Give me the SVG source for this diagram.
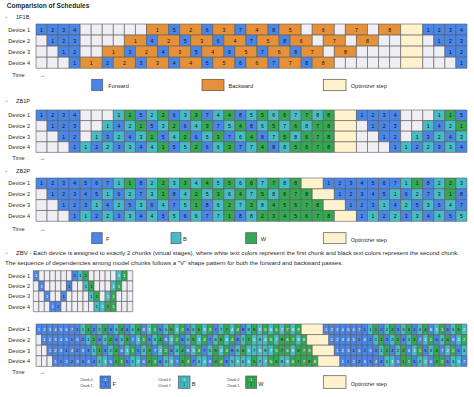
<svg xmlns="http://www.w3.org/2000/svg" width="474" height="397" viewBox="0 0 474 397">
<style>
.t{font-family:"Liberation Sans",Arial,sans-serif;fill:#2a2a2a;font-size:5.6px}
.hd{font-family:"Liberation Sans",Arial,sans-serif;fill:#2a2a2a;font-size:7.6px;font-weight:bold}
.bu{fill:#999;font-size:5px;font-family:"Liberation Sans",Arial,sans-serif}
.g rect{stroke:#5a5a5a;stroke-width:0.6;vector-effect:non-scaling-stroke;width:1px;height:1px}
.g rect.d{width:2px}
.g rect.q{width:4px}
.E{fill:#eeeef4}.F{fill:#4a86e8}.B{fill:#e69138}.T{fill:#46bdc6}.W{fill:#34a853}.O{fill:#fff2cc}
.n text{font-family:"Liberation Sans",Arial,sans-serif;font-size:5.2px;text-anchor:middle;dominant-baseline:central;fill:#111}
.s text{font-size:4.2px}
.n text.w{fill:#fff}
.lg rect{stroke:#555;stroke-width:0.7}
.ck{font-family:"Liberation Sans",Arial,sans-serif;font-size:3.4px;fill:#333}
</style>

<text class="hd" x="6.7" y="7.8" textLength="82.6" lengthAdjust="spacingAndGlyphs">Comparision of Schedules</text>

<!-- ===== 1F1B ===== -->
<g id="sec-1f1b">
<text class="bu" x="5.5" y="19">•</text>
<text class="t" x="16" y="19.2">1F1B</text>
<text class="t" x="8.3" y="31.5">Device 1</text>
<text class="t" x="8.3" y="42.6">Device 2</text>
<text class="t" x="8.3" y="53.6">Device 3</text>
<text class="t" x="8.3" y="64.7">Device 4</text>
<text class="t" x="12.3" y="77">Time</text>
<text class="t" x="39.5" y="77">→</text>
<g class="g" transform="translate(36,24) scale(11.05,11.07)">
<g><rect class="F" x="0"/><rect class="F" x="1"/><rect class="F" x="2"/><rect class="F" x="3"/><rect class="E" x="4"/><rect class="E" x="5"/><rect class="E" x="6"/><rect class="E" x="7"/><rect class="E" x="8"/><rect class="E" x="9"/><rect class="B d" x="10"/><rect class="F" x="12"/><rect class="B d" x="13"/><rect class="F" x="15"/><rect class="B d" x="16"/><rect class="F" x="18"/><rect class="B d" x="19"/><rect class="F" x="21"/><rect class="B d" x="22"/><rect class="E" x="24"/><rect class="B d" x="25"/><rect class="E" x="27"/><rect class="B d" x="28"/><rect class="E" x="30"/><rect class="B d" x="31"/><rect class="O d" x="33"/><rect class="F" x="35"/><rect class="F" x="36"/><rect class="F" x="37"/><rect class="F" x="38"/></g>
<g transform="translate(0,1)"><rect class="E" x="0"/><rect class="F" x="1"/><rect class="F" x="2"/><rect class="F" x="3"/><rect class="E" x="4"/><rect class="E" x="5"/><rect class="E" x="6"/><rect class="E" x="7"/><rect class="B d" x="8"/><rect class="F" x="10"/><rect class="B d" x="11"/><rect class="F" x="13"/><rect class="B d" x="14"/><rect class="F" x="16"/><rect class="B d" x="17"/><rect class="F" x="19"/><rect class="B d" x="20"/><rect class="F" x="22"/><rect class="B d" x="23"/><rect class="E" x="25"/><rect class="B d" x="26"/><rect class="E" x="28"/><rect class="B d" x="29"/><rect class="E" x="31"/><rect class="E" x="32"/><rect class="O d" x="33"/><rect class="E" x="35"/><rect class="F" x="36"/><rect class="F" x="37"/><rect class="F" x="38"/></g>
<g transform="translate(0,2)"><rect class="E" x="0"/><rect class="E" x="1"/><rect class="F" x="2"/><rect class="F" x="3"/><rect class="E" x="4"/><rect class="E" x="5"/><rect class="B d" x="6"/><rect class="F" x="8"/><rect class="B d" x="9"/><rect class="F" x="11"/><rect class="B d" x="12"/><rect class="F" x="14"/><rect class="B d" x="15"/><rect class="F" x="17"/><rect class="B d" x="18"/><rect class="F" x="20"/><rect class="B d" x="21"/><rect class="F" x="23"/><rect class="B d" x="24"/><rect class="E" x="26"/><rect class="B d" x="27"/><rect class="E" x="29"/><rect class="E" x="30"/><rect class="E" x="31"/><rect class="E" x="32"/><rect class="O d" x="33"/><rect class="E" x="35"/><rect class="E" x="36"/><rect class="F" x="37"/><rect class="F" x="38"/></g>
<g transform="translate(0,3)"><rect class="E" x="0"/><rect class="E" x="1"/><rect class="E" x="2"/><rect class="F" x="3"/><rect class="B d" x="4"/><rect class="F" x="6"/><rect class="B d" x="7"/><rect class="F" x="9"/><rect class="B d" x="10"/><rect class="F" x="12"/><rect class="B d" x="13"/><rect class="F" x="15"/><rect class="B d" x="16"/><rect class="F" x="18"/><rect class="B d" x="19"/><rect class="F" x="21"/><rect class="B d" x="22"/><rect class="F" x="24"/><rect class="B d" x="25"/><rect class="E" x="27"/><rect class="E" x="28"/><rect class="E" x="29"/><rect class="E" x="30"/><rect class="E" x="31"/><rect class="E" x="32"/><rect class="O d" x="33"/><rect class="E" x="35"/><rect class="E" x="36"/><rect class="E" x="37"/><rect class="F" x="38"/></g>
</g>
<g class="n" transform="translate(36,29.5)"><text x="5.5">1</text><text x="16.6">2</text><text x="27.6">3</text><text x="38.7">4</text><text x="121.55">1</text><text x="138.1">5</text><text x="154.7">2</text><text x="171.3">6</text><text x="187.85">3</text><text x="204.4">7</text><text x="221">4</text><text x="237.6">8</text><text x="254.15">5</text><text x="287.3">6</text><text x="320.45">7</text><text x="353.6">8</text><text x="392.3">1</text><text x="403.3">2</text><text x="414.4">3</text><text x="425.4">4</text></g>
<g class="n" transform="translate(36,40.6)"><text x="16.6">1</text><text x="27.6">2</text><text x="38.7">3</text><text x="99.45">1</text><text x="116">4</text><text x="132.6">2</text><text x="149.2">5</text><text x="165.75">3</text><text x="182.3">6</text><text x="198.9">4</text><text x="215.5">7</text><text x="232.05">5</text><text x="248.6">8</text><text x="265.2">6</text><text x="298.35">7</text><text x="331.5">8</text><text x="403.3">1</text><text x="414.4">2</text><text x="425.4">3</text></g>
<g class="n" transform="translate(36,51.6)"><text x="27.6">1</text><text x="38.7">2</text><text x="77.35">1</text><text x="93.9">3</text><text x="110.5">2</text><text x="127.1">4</text><text x="143.65">3</text><text x="160.2">5</text><text x="176.8">4</text><text x="193.4">6</text><text x="209.95">5</text><text x="226.5">7</text><text x="243.1">6</text><text x="259.7">8</text><text x="276.25">7</text><text x="309.4">8</text><text x="414.4">1</text><text x="425.4">2</text></g>
<g class="n" transform="translate(36,62.7)"><text x="38.7">1</text><text x="55.25">1</text><text x="71.8">2</text><text x="88.4">2</text><text x="105">3</text><text x="121.55">3</text><text x="138.1">4</text><text x="154.7">4</text><text x="171.3">5</text><text x="187.85">5</text><text x="204.4">6</text><text x="221">6</text><text x="237.6">7</text><text x="254.15">7</text><text x="270.7">8</text><text x="287.3">8</text><text x="425.4">1</text></g>
<g class="lg">
<rect class="F" x="91.7" y="79.3" width="11" height="11.4"/>
<rect class="B" x="202" y="79.3" width="22" height="11.4"/>
<rect class="O" x="323.3" y="79.3" width="22.7" height="11.4"/>
</g>
<text class="t" x="108.3" y="88">Forward</text>
<text class="t" x="228.5" y="88">Backward</text>
<text class="t" x="350.7" y="88">Optimizer step</text>
</g>

<!-- ===== ZB1P ===== -->
<g id="sec-zb1p">
<text class="bu" x="5.5" y="102.6">•</text>
<text class="t" x="16" y="102.8">ZB1P</text>
<text class="t" x="8.3" y="117.3">Device 1</text>
<text class="t" x="8.3" y="127.9">Device 2</text>
<text class="t" x="8.3" y="138.5">Device 3</text>
<text class="t" x="8.3" y="149.1">Device 4</text>
<text class="t" x="12.3" y="160.3">Time</text>
<text class="t" x="39.5" y="160.3">→</text>
<g class="g" transform="translate(36,110) scale(11.05,10.6)">
<g><rect class="F" x="0"/><rect class="F" x="1"/><rect class="F" x="2"/><rect class="F" x="3"/><rect class="E" x="4"/><rect class="E" x="5"/><rect class="E" x="6"/><rect class="T" x="7"/><rect class="W" x="8"/><rect class="F" x="9"/><rect class="T" x="10"/><rect class="W" x="11"/><rect class="F" x="12"/><rect class="T" x="13"/><rect class="W" x="14"/><rect class="F" x="15"/><rect class="T" x="16"/><rect class="W" x="17"/><rect class="F" x="18"/><rect class="T" x="19"/><rect class="W" x="20"/><rect class="T" x="21"/><rect class="W" x="22"/><rect class="T" x="23"/><rect class="W" x="24"/><rect class="T" x="25"/><rect class="W" x="26"/><rect class="O d" x="27"/><rect class="F" x="29"/><rect class="F" x="30"/><rect class="F" x="31"/><rect class="F" x="32"/><rect class="E" x="33"/><rect class="E" x="34"/><rect class="E" x="35"/><rect class="T" x="36"/><rect class="W" x="37"/><rect class="F" x="38"/></g>
<g transform="translate(0,1)"><rect class="E" x="0"/><rect class="F" x="1"/><rect class="F" x="2"/><rect class="F" x="3"/><rect class="E" x="4"/><rect class="E" x="5"/><rect class="T" x="6"/><rect class="F" x="7"/><rect class="T" x="8"/><rect class="W" x="9"/><rect class="F" x="10"/><rect class="T" x="11"/><rect class="W" x="12"/><rect class="F" x="13"/><rect class="T" x="14"/><rect class="W" x="15"/><rect class="F" x="16"/><rect class="T" x="17"/><rect class="W" x="18"/><rect class="F" x="19"/><rect class="T" x="20"/><rect class="W" x="21"/><rect class="T" x="22"/><rect class="W" x="23"/><rect class="T" x="24"/><rect class="W" x="25"/><rect class="W" x="26"/><rect class="O d" x="27"/><rect class="E" x="29"/><rect class="F" x="30"/><rect class="F" x="31"/><rect class="F" x="32"/><rect class="E" x="33"/><rect class="E" x="34"/><rect class="T" x="35"/><rect class="F" x="36"/><rect class="T" x="37"/><rect class="W" x="38"/></g>
<g transform="translate(0,2)"><rect class="E" x="0"/><rect class="E" x="1"/><rect class="F" x="2"/><rect class="F" x="3"/><rect class="E" x="4"/><rect class="T" x="5"/><rect class="F" x="6"/><rect class="T" x="7"/><rect class="F" x="8"/><rect class="T" x="9"/><rect class="W" x="10"/><rect class="F" x="11"/><rect class="T" x="12"/><rect class="W" x="13"/><rect class="F" x="14"/><rect class="T" x="15"/><rect class="W" x="16"/><rect class="F" x="17"/><rect class="T" x="18"/><rect class="W" x="19"/><rect class="F" x="20"/><rect class="T" x="21"/><rect class="W" x="22"/><rect class="T" x="23"/><rect class="W" x="24"/><rect class="W" x="25"/><rect class="W" x="26"/><rect class="O d" x="27"/><rect class="E" x="29"/><rect class="E" x="30"/><rect class="F" x="31"/><rect class="F" x="32"/><rect class="E" x="33"/><rect class="T" x="34"/><rect class="F" x="35"/><rect class="T" x="36"/><rect class="F" x="37"/><rect class="T" x="38"/></g>
<g transform="translate(0,3)"><rect class="E" x="0"/><rect class="E" x="1"/><rect class="E" x="2"/><rect class="F" x="3"/><rect class="T" x="4"/><rect class="F" x="5"/><rect class="T" x="6"/><rect class="F" x="7"/><rect class="T" x="8"/><rect class="F" x="9"/><rect class="T" x="10"/><rect class="W" x="11"/><rect class="F" x="12"/><rect class="T" x="13"/><rect class="W" x="14"/><rect class="F" x="15"/><rect class="T" x="16"/><rect class="W" x="17"/><rect class="F" x="18"/><rect class="T" x="19"/><rect class="W" x="20"/><rect class="F" x="21"/><rect class="T" x="22"/><rect class="W" x="23"/><rect class="W" x="24"/><rect class="W" x="25"/><rect class="W" x="26"/><rect class="O d" x="27"/><rect class="E" x="29"/><rect class="E" x="30"/><rect class="E" x="31"/><rect class="F" x="32"/><rect class="T" x="33"/><rect class="F" x="34"/><rect class="T" x="35"/><rect class="F" x="36"/><rect class="T" x="37"/><rect class="F" x="38"/></g>
</g>
<g class="n" transform="translate(36,115.3)"><text x="5.5">1</text><text x="16.6">2</text><text x="27.6">3</text><text x="38.7">4</text><text x="82.9">1</text><text x="93.9">1</text><text x="105">5</text><text x="116">2</text><text x="127.1">2</text><text x="138.1">6</text><text x="149.2">3</text><text x="160.2">3</text><text x="171.3">7</text><text x="182.3">4</text><text x="193.4">4</text><text x="204.4">8</text><text x="215.5">5</text><text x="226.5">5</text><text x="237.6">6</text><text x="248.6">6</text><text x="259.7">7</text><text x="270.7">7</text><text x="281.8">8</text><text x="292.8">8</text><text x="326">1</text><text x="337">2</text><text x="348.1">3</text><text x="359.1">4</text><text x="403.3">1</text><text x="414.4">1</text><text x="425.4">5</text></g>
<g class="n" transform="translate(36,125.9)"><text x="16.6">1</text><text x="27.6">2</text><text x="38.7">3</text><text x="71.8">1</text><text x="82.9">4</text><text x="93.9">2</text><text x="105">1</text><text x="116">5</text><text x="127.1">3</text><text x="138.1">2</text><text x="149.2">6</text><text x="160.2">4</text><text x="171.3">3</text><text x="182.3">7</text><text x="193.4">5</text><text x="204.4">4</text><text x="215.5">8</text><text x="226.5">6</text><text x="237.6">5</text><text x="248.6">7</text><text x="259.7">6</text><text x="270.7">8</text><text x="281.8">7</text><text x="292.8">8</text><text x="337">1</text><text x="348.1">2</text><text x="359.1">3</text><text x="392.3">1</text><text x="403.3">4</text><text x="414.4">2</text><text x="425.4">1</text></g>
<g class="n" transform="translate(36,136.5)"><text x="27.6">1</text><text x="38.7">2</text><text x="60.8">1</text><text x="71.8">3</text><text x="82.9">2</text><text x="93.9">4</text><text x="105">3</text><text x="116">1</text><text x="127.1">5</text><text x="138.1">4</text><text x="149.2">2</text><text x="160.2">6</text><text x="171.3">5</text><text x="182.3">3</text><text x="193.4">7</text><text x="204.4">6</text><text x="215.5">4</text><text x="226.5">8</text><text x="237.6">7</text><text x="248.6">5</text><text x="259.7">8</text><text x="270.7">6</text><text x="281.8">7</text><text x="292.8">8</text><text x="348.1">1</text><text x="359.1">2</text><text x="381.2">1</text><text x="392.3">3</text><text x="403.3">2</text><text x="414.4">4</text><text x="425.4">3</text></g>
<g class="n" transform="translate(36,147.1)"><text x="38.7">1</text><text x="49.7">1</text><text x="60.8">2</text><text x="71.8">2</text><text x="82.9">3</text><text x="93.9">3</text><text x="105">4</text><text x="116">4</text><text x="127.1">1</text><text x="138.1">5</text><text x="149.2">5</text><text x="160.2">2</text><text x="171.3">6</text><text x="182.3">6</text><text x="193.4">3</text><text x="204.4">7</text><text x="215.5">7</text><text x="226.5">4</text><text x="237.6">8</text><text x="248.6">8</text><text x="259.7">5</text><text x="270.7">6</text><text x="281.8">7</text><text x="292.8">8</text><text x="359.1">1</text><text x="370.2">1</text><text x="381.2">2</text><text x="392.3">2</text><text x="403.3">3</text><text x="414.4">3</text><text x="425.4">4</text></g>
</g>

<!-- ===== ZB2P ===== -->
<g id="sec-zb2p">
<text class="bu" x="5.5" y="172.8">•</text>
<text class="t" x="16" y="173">ZB2P</text>
<text class="t" x="8.3" y="185.4">Device 1</text>
<text class="t" x="8.3" y="196.2">Device 2</text>
<text class="t" x="8.3" y="207">Device 3</text>
<text class="t" x="8.3" y="217.9">Device 4</text>
<text class="t" x="12.3" y="231">Time</text>
<text class="t" x="39.5" y="231">→</text>
<g class="g" transform="translate(36,178) scale(11.05,10.83)">
<g><rect class="F" x="0"/><rect class="F" x="1"/><rect class="F" x="2"/><rect class="F" x="3"/><rect class="F" x="4"/><rect class="F" x="5"/><rect class="F" x="6"/><rect class="T" x="7"/><rect class="W" x="8"/><rect class="F" x="9"/><rect class="T" x="10"/><rect class="W" x="11"/><rect class="T" x="12"/><rect class="W" x="13"/><rect class="T" x="14"/><rect class="W" x="15"/><rect class="T" x="16"/><rect class="W" x="17"/><rect class="T" x="18"/><rect class="W" x="19"/><rect class="T" x="20"/><rect class="W" x="21"/><rect class="T" x="22"/><rect class="W" x="23"/><rect class="O d" x="24"/><rect class="F" x="26"/><rect class="F" x="27"/><rect class="F" x="28"/><rect class="F" x="29"/><rect class="F" x="30"/><rect class="F" x="31"/><rect class="F" x="32"/><rect class="T" x="33"/><rect class="W" x="34"/><rect class="F" x="35"/><rect class="T" x="36"/><rect class="W" x="37"/><rect class="T" x="38"/></g>
<g transform="translate(0,1)"><rect class="E" x="0"/><rect class="F" x="1"/><rect class="F" x="2"/><rect class="F" x="3"/><rect class="F" x="4"/><rect class="F" x="5"/><rect class="T" x="6"/><rect class="F" x="7"/><rect class="T" x="8"/><rect class="F" x="9"/><rect class="T" x="10"/><rect class="W" x="11"/><rect class="F" x="12"/><rect class="T" x="13"/><rect class="W" x="14"/><rect class="T" x="15"/><rect class="W" x="16"/><rect class="T" x="17"/><rect class="W" x="18"/><rect class="T" x="19"/><rect class="W" x="20"/><rect class="T" x="21"/><rect class="W" x="22"/><rect class="W" x="23"/><rect class="W" x="24"/><rect class="O d" x="25"/><rect class="F" x="27"/><rect class="F" x="28"/><rect class="F" x="29"/><rect class="F" x="30"/><rect class="F" x="31"/><rect class="T" x="32"/><rect class="F" x="33"/><rect class="T" x="34"/><rect class="F" x="35"/><rect class="T" x="36"/><rect class="W" x="37"/><rect class="F" x="38"/></g>
<g transform="translate(0,2)"><rect class="E" x="0"/><rect class="E" x="1"/><rect class="F" x="2"/><rect class="F" x="3"/><rect class="F" x="4"/><rect class="T" x="5"/><rect class="F" x="6"/><rect class="T" x="7"/><rect class="F" x="8"/><rect class="T" x="9"/><rect class="F" x="10"/><rect class="T" x="11"/><rect class="F" x="12"/><rect class="T" x="13"/><rect class="W" x="14"/><rect class="F" x="15"/><rect class="T" x="16"/><rect class="W" x="17"/><rect class="T" x="18"/><rect class="W" x="19"/><rect class="T" x="20"/><rect class="W" x="21"/><rect class="W" x="22"/><rect class="W" x="23"/><rect class="W" x="24"/><rect class="W" x="25"/><rect class="O d" x="26"/><rect class="F" x="28"/><rect class="F" x="29"/><rect class="F" x="30"/><rect class="T" x="31"/><rect class="F" x="32"/><rect class="T" x="33"/><rect class="F" x="34"/><rect class="T" x="35"/><rect class="F" x="36"/><rect class="T" x="37"/><rect class="F" x="38"/></g>
<g transform="translate(0,3)"><rect class="E" x="0"/><rect class="E" x="1"/><rect class="E" x="2"/><rect class="F" x="3"/><rect class="T" x="4"/><rect class="F" x="5"/><rect class="T" x="6"/><rect class="F" x="7"/><rect class="T" x="8"/><rect class="F" x="9"/><rect class="T" x="10"/><rect class="F" x="11"/><rect class="T" x="12"/><rect class="F" x="13"/><rect class="T" x="14"/><rect class="F" x="15"/><rect class="T" x="16"/><rect class="W" x="17"/><rect class="F" x="18"/><rect class="T" x="19"/><rect class="W" x="20"/><rect class="W" x="21"/><rect class="W" x="22"/><rect class="W" x="23"/><rect class="W" x="24"/><rect class="W" x="25"/><rect class="W" x="26"/><rect class="O d" x="27"/><rect class="F" x="29"/><rect class="T" x="30"/><rect class="F" x="31"/><rect class="T" x="32"/><rect class="F" x="33"/><rect class="T" x="34"/><rect class="F" x="35"/><rect class="T" x="36"/><rect class="F" x="37"/><rect class="T" x="38"/></g>
</g>
<g class="n" transform="translate(36,183.4)"><text x="5.5">1</text><text x="16.6">2</text><text x="27.6">3</text><text x="38.7">4</text><text x="49.7">5</text><text x="60.8">6</text><text x="71.8">7</text><text x="82.9">1</text><text x="93.9">1</text><text x="105">8</text><text x="116">2</text><text x="127.1">2</text><text x="138.1">3</text><text x="149.2">3</text><text x="160.2">4</text><text x="171.3">4</text><text x="182.3">5</text><text x="193.4">5</text><text x="204.4">6</text><text x="215.5">6</text><text x="226.5">7</text><text x="237.6">7</text><text x="248.6">8</text><text x="259.7">8</text><text x="292.8">1</text><text x="303.9">2</text><text x="314.9">3</text><text x="326">4</text><text x="337">5</text><text x="348.1">6</text><text x="359.1">7</text><text x="370.2">1</text><text x="381.2">1</text><text x="392.3">8</text><text x="403.3">2</text><text x="414.4">2</text><text x="425.4">3</text></g>
<g class="n" transform="translate(36,194.2)"><text x="16.6">1</text><text x="27.6">2</text><text x="38.7">3</text><text x="49.7">4</text><text x="60.8">5</text><text x="71.8">1</text><text x="82.9">6</text><text x="93.9">2</text><text x="105">7</text><text x="116">3</text><text x="127.1">1</text><text x="138.1">8</text><text x="149.2">4</text><text x="160.2">2</text><text x="171.3">5</text><text x="182.3">3</text><text x="193.4">6</text><text x="204.4">4</text><text x="215.5">7</text><text x="226.5">5</text><text x="237.6">8</text><text x="248.6">6</text><text x="259.7">7</text><text x="270.7">8</text><text x="303.9">1</text><text x="314.9">2</text><text x="326">3</text><text x="337">4</text><text x="348.1">5</text><text x="359.1">1</text><text x="370.2">6</text><text x="381.2">2</text><text x="392.3">7</text><text x="403.3">3</text><text x="414.4">1</text><text x="425.4">8</text></g>
<g class="n" transform="translate(36,205)"><text x="27.6">1</text><text x="38.7">2</text><text x="49.7">3</text><text x="60.8">1</text><text x="71.8">4</text><text x="82.9">2</text><text x="93.9">5</text><text x="105">3</text><text x="116">6</text><text x="127.1">4</text><text x="138.1">7</text><text x="149.2">5</text><text x="160.2">1</text><text x="171.3">8</text><text x="182.3">6</text><text x="193.4">2</text><text x="204.4">7</text><text x="215.5">3</text><text x="226.5">8</text><text x="237.6">4</text><text x="248.6">5</text><text x="259.7">6</text><text x="270.7">7</text><text x="281.8">8</text><text x="314.9">1</text><text x="326">2</text><text x="337">3</text><text x="348.1">1</text><text x="359.1">4</text><text x="370.2">2</text><text x="381.2">5</text><text x="392.3">3</text><text x="403.3">6</text><text x="414.4">4</text><text x="425.4">7</text></g>
<g class="n" transform="translate(36,215.9)"><text x="38.7">1</text><text x="49.7">1</text><text x="60.8">2</text><text x="71.8">2</text><text x="82.9">3</text><text x="93.9">3</text><text x="105">4</text><text x="116">4</text><text x="127.1">5</text><text x="138.1">5</text><text x="149.2">6</text><text x="160.2">6</text><text x="171.3">7</text><text x="182.3">7</text><text x="193.4">1</text><text x="204.4">8</text><text x="215.5">8</text><text x="226.5">2</text><text x="237.6">3</text><text x="248.6">4</text><text x="259.7">5</text><text x="270.7">6</text><text x="281.8">7</text><text x="292.8">8</text><text x="326">1</text><text x="337">1</text><text x="348.1">2</text><text x="359.1">2</text><text x="370.2">3</text><text x="381.2">3</text><text x="392.3">4</text><text x="403.3">4</text><text x="414.4">5</text><text x="425.4">5</text></g>
<g class="lg">
<rect class="F" x="91.7" y="232.7" width="10.5" height="11"/>
<rect class="T" x="171" y="232.7" width="10" height="11"/>
<rect class="W" x="245.7" y="232.7" width="11" height="11"/>
<rect class="O" x="323.3" y="232.7" width="22.7" height="11"/>
</g>
<text class="t" x="106" y="241.3">F</text>
<text class="t" x="183" y="241.3">B</text>
<text class="t" x="260.7" y="241.3">W</text>
<text class="t" x="350.7" y="241.8">Optimizer step</text>
</g>

<!-- ===== ZBV ===== -->
<g id="sec-zbv">
<text class="bu" x="5.5" y="255.1">•</text>
<text class="t" x="16" y="255.3" textLength="443" lengthAdjust="spacingAndGlyphs">ZBV - Each device is assigned to exactly 2 chunks (virtual stages), where white text colors represent the first chunk and black text colors represent the second chunk.</text>
<text class="t" x="5" y="265.3" textLength="338" lengthAdjust="spacingAndGlyphs">The sequence of dependencies among model chunks follows a "V" shape pattern for both the forward and backward passes.</text>
<text class="t" x="8.3" y="277.8">Device 1</text>
<text class="t" x="8.3" y="288.1">Device 2</text>
<text class="t" x="8.3" y="298.3">Device 3</text>
<text class="t" x="8.3" y="308.6">Device 4</text>
<g class="g" transform="translate(33.3,270.7) scale(5.525,10.25)">
<g><rect class="F" x="0"/><rect class="E" x="1"/><rect class="E" x="2"/><rect class="E" x="3"/><rect class="E" x="4"/><rect class="E" x="5"/><rect class="E" x="6"/><rect class="F" x="7"/><rect class="T" x="8"/><rect class="W" x="9"/><rect class="E" x="10"/><rect class="E" x="11"/><rect class="E" x="12"/><rect class="E" x="13"/><rect class="E" x="14"/><rect class="T" x="15"/><rect class="W" x="16"/><rect class="E" x="17"/></g>
<g transform="translate(0,1)"><rect class="E" x="0"/><rect class="F" x="1"/><rect class="E" x="2"/><rect class="E" x="3"/><rect class="E" x="4"/><rect class="E" x="5"/><rect class="F" x="6"/><rect class="E" x="7"/><rect class="E" x="8"/><rect class="T" x="9"/><rect class="W" x="10"/><rect class="E" x="11"/><rect class="E" x="12"/><rect class="E" x="13"/><rect class="T" x="14"/><rect class="W" x="15"/><rect class="E" x="16"/><rect class="E" x="17"/></g>
<g transform="translate(0,2)"><rect class="E" x="0"/><rect class="E" x="1"/><rect class="F" x="2"/><rect class="E" x="3"/><rect class="E" x="4"/><rect class="F" x="5"/><rect class="E" x="6"/><rect class="E" x="7"/><rect class="E" x="8"/><rect class="E" x="9"/><rect class="T" x="10"/><rect class="W" x="11"/><rect class="E" x="12"/><rect class="T" x="13"/><rect class="W" x="14"/><rect class="E" x="15"/><rect class="E" x="16"/><rect class="E" x="17"/></g>
<g transform="translate(0,3)"><rect class="E" x="0"/><rect class="E" x="1"/><rect class="E" x="2"/><rect class="F" x="3"/><rect class="F" x="4"/><rect class="E" x="5"/><rect class="E" x="6"/><rect class="E" x="7"/><rect class="E" x="8"/><rect class="E" x="9"/><rect class="E" x="10"/><rect class="T" x="11"/><rect class="T" x="12"/><rect class="W" x="13"/><rect class="W" x="14"/><rect class="E" x="15"/><rect class="E" x="16"/><rect class="E" x="17"/></g>
</g>
<g class="n s" transform="translate(33.3,275.8)"><text class="w" x="2.8">1</text><text x="41.4">1</text><text x="47">1</text><text x="52.5">1</text><text class="w" x="85.6">1</text><text class="w" x="91.2">1</text></g>
<g class="n s" transform="translate(33.3,286.1)"><text class="w" x="8.3">1</text><text x="35.9">1</text><text x="52.5">1</text><text x="58">1</text><text class="w" x="80.1">1</text><text class="w" x="85.6">1</text></g>
<g class="n s" transform="translate(33.3,296.3)"><text class="w" x="13.8">1</text><text x="30.4">1</text><text x="58">1</text><text x="63.5">1</text><text class="w" x="74.6">1</text><text class="w" x="80.1">1</text></g>
<g class="n s" transform="translate(33.3,306.6)"><text class="w" x="19.3">1</text><text x="24.9">1</text><text x="63.5">1</text><text class="w" x="69.1">1</text><text x="74.6">1</text><text class="w" x="80.1">1</text></g>

<text class="t" x="8.3" y="331.3">Device 1</text>
<text class="t" x="8.3" y="341.9">Device 2</text>
<text class="t" x="8.3" y="352.5">Device 3</text>
<text class="t" x="8.3" y="363.1">Device 4</text>
<text class="t" x="12.3" y="373.7">Time</text>
<text class="t" x="39.5" y="373.7">→</text>
<g class="g" transform="translate(36,324) scale(5.525,10.6)">
<g><rect class="F" x="0"/><rect class="F" x="1"/><rect class="F" x="2"/><rect class="F" x="3"/><rect class="F" x="4"/><rect class="F" x="5"/><rect class="F" x="6"/><rect class="F" x="7"/><rect class="T" x="8"/><rect class="W" x="9"/><rect class="F" x="10"/><rect class="T" x="11"/><rect class="W" x="12"/><rect class="F" x="13"/><rect class="T" x="14"/><rect class="W" x="15"/><rect class="F" x="16"/><rect class="T" x="17"/><rect class="W" x="18"/><rect class="F" x="19"/><rect class="T" x="20"/><rect class="W" x="21"/><rect class="F" x="22"/><rect class="T" x="23"/><rect class="W" x="24"/><rect class="T" x="25"/><rect class="W" x="26"/><rect class="F" x="27"/><rect class="T" x="28"/><rect class="W" x="29"/><rect class="T" x="30"/><rect class="W" x="31"/><rect class="F" x="32"/><rect class="T" x="33"/><rect class="W" x="34"/><rect class="T" x="35"/><rect class="W" x="36"/><rect class="F" x="37"/><rect class="T" x="38"/><rect class="W" x="39"/><rect class="T" x="40"/><rect class="W" x="41"/><rect class="T" x="42"/><rect class="W" x="43"/><rect class="T" x="44"/><rect class="W" x="45"/><rect class="T" x="46"/><rect class="W" x="47"/><rect class="O q" x="48"/><rect class="F" x="52"/><rect class="F" x="53"/><rect class="F" x="54"/><rect class="F" x="55"/><rect class="F" x="56"/><rect class="F" x="57"/><rect class="F" x="58"/><rect class="F" x="59"/><rect class="T" x="60"/><rect class="W" x="61"/><rect class="F" x="62"/><rect class="T" x="63"/><rect class="W" x="64"/><rect class="F" x="65"/><rect class="T" x="66"/><rect class="W" x="67"/><rect class="F" x="68"/><rect class="T" x="69"/><rect class="W" x="70"/><rect class="F" x="71"/><rect class="T" x="72"/><rect class="W" x="73"/><rect class="F" x="74"/><rect class="T" x="75"/><rect class="W" x="76"/><rect class="T" x="77"/></g>
<g transform="translate(0,1)"><rect class="E" x="0"/><rect class="F" x="1"/><rect class="F" x="2"/><rect class="F" x="3"/><rect class="F" x="4"/><rect class="F" x="5"/><rect class="F" x="6"/><rect class="F" x="7"/><rect class="F" x="8"/><rect class="T" x="9"/><rect class="W" x="10"/><rect class="F" x="11"/><rect class="T" x="12"/><rect class="W" x="13"/><rect class="F" x="14"/><rect class="T" x="15"/><rect class="W" x="16"/><rect class="F" x="17"/><rect class="T" x="18"/><rect class="W" x="19"/><rect class="F" x="20"/><rect class="T" x="21"/><rect class="W" x="22"/><rect class="F" x="23"/><rect class="T" x="24"/><rect class="W" x="25"/><rect class="F" x="26"/><rect class="T" x="27"/><rect class="W" x="28"/><rect class="T" x="29"/><rect class="W" x="30"/><rect class="F" x="31"/><rect class="T" x="32"/><rect class="W" x="33"/><rect class="T" x="34"/><rect class="W" x="35"/><rect class="F" x="36"/><rect class="T" x="37"/><rect class="W" x="38"/><rect class="T" x="39"/><rect class="T" x="40"/><rect class="T" x="41"/><rect class="W" x="42"/><rect class="T" x="43"/><rect class="W" x="44"/><rect class="W" x="45"/><rect class="W" x="46"/><rect class="T" x="47"/><rect class="W" x="48"/><rect class="O q" x="49"/><rect class="F" x="53"/><rect class="F" x="54"/><rect class="F" x="55"/><rect class="F" x="56"/><rect class="F" x="57"/><rect class="F" x="58"/><rect class="F" x="59"/><rect class="F" x="60"/><rect class="T" x="61"/><rect class="W" x="62"/><rect class="F" x="63"/><rect class="T" x="64"/><rect class="W" x="65"/><rect class="F" x="66"/><rect class="T" x="67"/><rect class="W" x="68"/><rect class="F" x="69"/><rect class="T" x="70"/><rect class="W" x="71"/><rect class="F" x="72"/><rect class="T" x="73"/><rect class="W" x="74"/><rect class="F" x="75"/><rect class="T" x="76"/><rect class="W" x="77"/></g>
<g transform="translate(0,2)"><rect class="E" x="0"/><rect class="E" x="1"/><rect class="F" x="2"/><rect class="F" x="3"/><rect class="F" x="4"/><rect class="F" x="5"/><rect class="F" x="6"/><rect class="F" x="7"/><rect class="F" x="8"/><rect class="F" x="9"/><rect class="T" x="10"/><rect class="W" x="11"/><rect class="F" x="12"/><rect class="T" x="13"/><rect class="W" x="14"/><rect class="F" x="15"/><rect class="T" x="16"/><rect class="W" x="17"/><rect class="F" x="18"/><rect class="T" x="19"/><rect class="W" x="20"/><rect class="F" x="21"/><rect class="T" x="22"/><rect class="W" x="23"/><rect class="F" x="24"/><rect class="T" x="25"/><rect class="W" x="26"/><rect class="F" x="27"/><rect class="T" x="28"/><rect class="W" x="29"/><rect class="F" x="30"/><rect class="T" x="31"/><rect class="W" x="32"/><rect class="T" x="33"/><rect class="W" x="34"/><rect class="F" x="35"/><rect class="T" x="36"/><rect class="W" x="37"/><rect class="T" x="38"/><rect class="T" x="39"/><rect class="T" x="40"/><rect class="T" x="41"/><rect class="T" x="42"/><rect class="W" x="43"/><rect class="W" x="44"/><rect class="W" x="45"/><rect class="T" x="46"/><rect class="W" x="47"/><rect class="W" x="48"/><rect class="W" x="49"/><rect class="O q" x="50"/><rect class="F" x="54"/><rect class="F" x="55"/><rect class="F" x="56"/><rect class="F" x="57"/><rect class="F" x="58"/><rect class="F" x="59"/><rect class="F" x="60"/><rect class="F" x="61"/><rect class="T" x="62"/><rect class="W" x="63"/><rect class="F" x="64"/><rect class="T" x="65"/><rect class="W" x="66"/><rect class="F" x="67"/><rect class="T" x="68"/><rect class="W" x="69"/><rect class="F" x="70"/><rect class="T" x="71"/><rect class="W" x="72"/><rect class="F" x="73"/><rect class="T" x="74"/><rect class="W" x="75"/><rect class="F" x="76"/><rect class="T" x="77"/></g>
<g transform="translate(0,3)"><rect class="E" x="0"/><rect class="E" x="1"/><rect class="E" x="2"/><rect class="F" x="3"/><rect class="F" x="4"/><rect class="F" x="5"/><rect class="F" x="6"/><rect class="F" x="7"/><rect class="F" x="8"/><rect class="F" x="9"/><rect class="F" x="10"/><rect class="T" x="11"/><rect class="T" x="12"/><rect class="F" x="13"/><rect class="W" x="14"/><rect class="W" x="15"/><rect class="F" x="16"/><rect class="T" x="17"/><rect class="T" x="18"/><rect class="F" x="19"/><rect class="W" x="20"/><rect class="W" x="21"/><rect class="F" x="22"/><rect class="T" x="23"/><rect class="T" x="24"/><rect class="F" x="25"/><rect class="W" x="26"/><rect class="W" x="27"/><rect class="F" x="28"/><rect class="T" x="29"/><rect class="T" x="30"/><rect class="F" x="31"/><rect class="W" x="32"/><rect class="W" x="33"/><rect class="F" x="34"/><rect class="T" x="35"/><rect class="T" x="36"/><rect class="T" x="37"/><rect class="T" x="38"/><rect class="W" x="39"/><rect class="T" x="40"/><rect class="T" x="41"/><rect class="W" x="42"/><rect class="W" x="43"/><rect class="T" x="44"/><rect class="T" x="45"/><rect class="W" x="46"/><rect class="W" x="47"/><rect class="W" x="48"/><rect class="W" x="49"/><rect class="W" x="50"/><rect class="O q" x="51"/><rect class="F" x="55"/><rect class="F" x="56"/><rect class="F" x="57"/><rect class="F" x="58"/><rect class="F" x="59"/><rect class="F" x="60"/><rect class="F" x="61"/><rect class="F" x="62"/><rect class="T" x="63"/><rect class="T" x="64"/><rect class="F" x="65"/><rect class="W" x="66"/><rect class="W" x="67"/><rect class="F" x="68"/><rect class="T" x="69"/><rect class="T" x="70"/><rect class="F" x="71"/><rect class="W" x="72"/><rect class="W" x="73"/><rect class="F" x="74"/><rect class="T" x="75"/><rect class="T" x="76"/><rect class="F" x="77"/></g>
</g>
<g class="n s" transform="translate(36,329.3)"><text class="w" x="2.8">1</text><text class="w" x="8.3">2</text><text class="w" x="13.8">3</text><text class="w" x="19.3">4</text><text class="w" x="24.9">5</text><text class="w" x="30.4">6</text><text class="w" x="35.9">7</text><text x="41.4">1</text><text x="47">1</text><text x="52.5">1</text><text x="58">2</text><text x="63.5">2</text><text x="69.1">2</text><text x="74.6">3</text><text x="80.1">3</text><text x="85.6">3</text><text x="91.2">4</text><text x="96.7">4</text><text x="102.2">4</text><text class="w" x="107.7">8</text><text class="w" x="113.3">1</text><text class="w" x="118.8">1</text><text x="124.3">5</text><text x="129.8">5</text><text x="135.4">5</text><text class="w" x="140.9">2</text><text class="w" x="146.4">2</text><text x="151.9">6</text><text x="157.5">6</text><text x="163">6</text><text class="w" x="168.5">3</text><text class="w" x="174">3</text><text x="179.6">7</text><text x="185.1">7</text><text x="190.6">7</text><text class="w" x="196.1">4</text><text class="w" x="201.7">4</text><text x="207.2">8</text><text x="212.7">8</text><text x="218.2">8</text><text class="w" x="223.8">5</text><text class="w" x="229.3">5</text><text class="w" x="234.8">6</text><text class="w" x="240.3">6</text><text class="w" x="245.9">7</text><text class="w" x="251.4">7</text><text class="w" x="256.9">8</text><text class="w" x="262.4">8</text><text class="w" x="290.1">1</text><text class="w" x="295.6">2</text><text class="w" x="301.1">3</text><text class="w" x="306.6">4</text><text class="w" x="312.2">5</text><text class="w" x="317.7">6</text><text class="w" x="323.2">7</text><text x="328.7">1</text><text x="334.3">1</text><text x="339.8">1</text><text x="345.3">2</text><text x="350.8">2</text><text x="356.4">2</text><text x="361.9">3</text><text x="367.4">3</text><text x="372.9">3</text><text x="378.5">4</text><text x="384">4</text><text x="389.5">4</text><text class="w" x="395">8</text><text class="w" x="400.6">1</text><text class="w" x="406.1">1</text><text x="411.6">5</text><text x="417.1">5</text><text x="422.7">5</text><text class="w" x="428.2">2</text></g>
<g class="n s" transform="translate(36,339.9)"><text class="w" x="8.3">1</text><text class="w" x="13.8">2</text><text class="w" x="19.3">3</text><text class="w" x="24.9">4</text><text class="w" x="30.4">5</text><text x="35.9">1</text><text class="w" x="41.4">6</text><text x="47">2</text><text x="52.5">1</text><text x="58">1</text><text x="63.5">3</text><text x="69.1">2</text><text x="74.6">2</text><text x="80.1">4</text><text x="85.6">3</text><text x="91.2">3</text><text class="w" x="96.7">7</text><text class="w" x="102.2">1</text><text class="w" x="107.7">1</text><text x="113.3">5</text><text x="118.8">4</text><text x="124.3">4</text><text class="w" x="129.8">8</text><text class="w" x="135.4">2</text><text class="w" x="140.9">2</text><text x="146.4">6</text><text x="151.9">5</text><text x="157.5">5</text><text class="w" x="163">3</text><text class="w" x="168.5">3</text><text x="174">7</text><text x="179.6">6</text><text x="185.1">6</text><text class="w" x="190.6">4</text><text class="w" x="196.1">4</text><text x="201.7">8</text><text x="207.2">7</text><text x="212.7">7</text><text class="w" x="218.2">5</text><text x="223.8">8</text><text class="w" x="229.3">6</text><text class="w" x="234.8">5</text><text class="w" x="240.3">7</text><text x="245.9">8</text><text class="w" x="251.4">6</text><text class="w" x="256.9">7</text><text class="w" x="262.4">8</text><text class="w" x="268">8</text><text class="w" x="295.6">1</text><text class="w" x="301.1">2</text><text class="w" x="306.6">3</text><text class="w" x="312.2">4</text><text class="w" x="317.7">5</text><text x="323.2">1</text><text class="w" x="328.7">6</text><text x="334.3">2</text><text x="339.8">1</text><text x="345.3">1</text><text x="350.8">3</text><text x="356.4">2</text><text x="361.9">2</text><text x="367.4">4</text><text x="372.9">3</text><text x="378.5">3</text><text class="w" x="384">7</text><text class="w" x="389.5">1</text><text class="w" x="395">1</text><text x="400.6">5</text><text x="406.1">4</text><text x="411.6">4</text><text class="w" x="417.1">8</text><text class="w" x="422.7">2</text><text class="w" x="428.2">2</text></g>
<g class="n s" transform="translate(36,350.5)"><text class="w" x="13.8">1</text><text class="w" x="19.3">2</text><text class="w" x="24.9">3</text><text x="30.4">1</text><text class="w" x="35.9">4</text><text x="41.4">2</text><text class="w" x="47">5</text><text x="52.5">3</text><text x="58">1</text><text x="63.5">1</text><text x="69.1">4</text><text x="74.6">2</text><text x="80.1">2</text><text class="w" x="85.6">6</text><text class="w" x="91.2">1</text><text class="w" x="96.7">1</text><text x="102.2">5</text><text x="107.7">3</text><text x="113.3">3</text><text class="w" x="118.8">7</text><text class="w" x="124.3">2</text><text class="w" x="129.8">2</text><text x="135.4">6</text><text x="140.9">4</text><text x="146.4">4</text><text class="w" x="151.9">8</text><text class="w" x="157.5">3</text><text class="w" x="163">3</text><text x="168.5">7</text><text x="174">5</text><text x="179.6">5</text><text class="w" x="185.1">4</text><text class="w" x="190.6">4</text><text x="196.1">8</text><text x="201.7">6</text><text x="207.2">6</text><text class="w" x="212.7">5</text><text x="218.2">7</text><text class="w" x="223.8">6</text><text x="229.3">8</text><text class="w" x="234.8">7</text><text class="w" x="240.3">5</text><text x="245.9">7</text><text class="w" x="251.4">6</text><text class="w" x="256.9">8</text><text x="262.4">8</text><text class="w" x="268">7</text><text class="w" x="273.5">8</text><text class="w" x="301.1">1</text><text class="w" x="306.6">2</text><text class="w" x="312.2">3</text><text x="317.7">1</text><text class="w" x="323.2">4</text><text x="328.7">2</text><text class="w" x="334.3">5</text><text x="339.8">3</text><text x="345.3">1</text><text x="350.8">1</text><text x="356.4">4</text><text x="361.9">2</text><text x="367.4">2</text><text class="w" x="372.9">6</text><text class="w" x="378.5">1</text><text class="w" x="384">1</text><text x="389.5">5</text><text x="395">3</text><text x="400.6">3</text><text class="w" x="406.1">7</text><text class="w" x="411.6">2</text><text class="w" x="417.1">2</text><text x="422.7">6</text><text x="428.2">4</text></g>
<g class="n s" transform="translate(36,361.1)"><text class="w" x="19.3">1</text><text x="24.9">1</text><text class="w" x="30.4">2</text><text x="35.9">2</text><text class="w" x="41.4">3</text><text x="47">3</text><text class="w" x="52.5">4</text><text x="58">4</text><text x="63.5">1</text><text class="w" x="69.1">1</text><text class="w" x="74.6">5</text><text x="80.1">1</text><text class="w" x="85.6">1</text><text x="91.2">5</text><text x="96.7">2</text><text class="w" x="102.2">2</text><text class="w" x="107.7">6</text><text x="113.3">2</text><text class="w" x="118.8">2</text><text x="124.3">6</text><text x="129.8">3</text><text class="w" x="135.4">3</text><text class="w" x="140.9">7</text><text x="146.4">3</text><text class="w" x="151.9">3</text><text x="157.5">7</text><text x="163">4</text><text class="w" x="168.5">4</text><text class="w" x="174">8</text><text x="179.6">4</text><text class="w" x="185.1">4</text><text x="190.6">8</text><text x="196.1">5</text><text class="w" x="201.7">5</text><text x="207.2">6</text><text class="w" x="212.7">6</text><text x="218.2">5</text><text x="223.8">7</text><text class="w" x="229.3">7</text><text class="w" x="234.8">5</text><text x="240.3">6</text><text x="245.9">8</text><text class="w" x="251.4">8</text><text class="w" x="256.9">6</text><text x="262.4">7</text><text class="w" x="268">7</text><text x="273.5">8</text><text class="w" x="279">8</text><text class="w" x="306.6">1</text><text x="312.2">1</text><text class="w" x="317.7">2</text><text x="323.2">2</text><text class="w" x="328.7">3</text><text x="334.3">3</text><text class="w" x="339.8">4</text><text x="345.3">4</text><text x="350.8">1</text><text class="w" x="356.4">1</text><text class="w" x="361.9">5</text><text x="367.4">1</text><text class="w" x="372.9">1</text><text x="378.5">5</text><text x="384">2</text><text class="w" x="389.5">2</text><text class="w" x="395">6</text><text x="400.6">2</text><text class="w" x="406.1">2</text><text x="411.6">6</text><text x="417.1">3</text><text class="w" x="422.7">3</text><text class="w" x="428.2">7</text></g>

<text class="ck" x="80" y="381.3">Chunk 0</text>
<text class="ck" x="80" y="386.5">Chunk 1</text>
<text class="ck" x="158.3" y="381.3">Chunk 0</text>
<text class="ck" x="158.3" y="386.5">Chunk 1</text>
<text class="ck" x="226.7" y="381.3">Chunk 0</text>
<text class="ck" x="226.7" y="386.5">Chunk 1</text>
<g class="lg">
<rect class="F" x="100" y="376" width="10.7" height="12.3"/>
<rect class="T" x="178.3" y="376" width="11.7" height="12.3"/>
<rect class="W" x="245.7" y="376" width="11" height="12.3"/>
<rect class="O" x="323.3" y="375.7" width="22.7" height="12.6"/>
</g>
<g stroke="#2f5fb0" stroke-width="0.4">
<rect class="F" x="101.9" y="377.4" width="6.9" height="4.6"/>
<rect class="F" x="101.9" y="382.3" width="6.9" height="4.6"/>
</g>
<g stroke="#2d8f98" stroke-width="0.4">
<rect class="T" x="180.7" y="377.4" width="6.9" height="4.6"/>
<rect class="T" x="180.7" y="382.3" width="6.9" height="4.6"/>
</g>
<g stroke="#25803e" stroke-width="0.4">
<rect class="W" x="247.8" y="377.4" width="6.9" height="4.6"/>
<rect class="W" x="247.8" y="382.3" width="6.9" height="4.6"/>
</g>
<g class="n" style="font-size:3.4px">
<text class="w" x="105.35" y="379.7" style="font-size:3.4px">1</text><text x="105.35" y="384.6" style="font-size:3.4px">1</text>
<text class="w" x="184.15" y="379.7" style="font-size:3.4px">1</text><text x="184.15" y="384.6" style="font-size:3.4px">1</text>
<text class="w" x="251.25" y="379.7" style="font-size:3.4px">1</text><text x="251.25" y="384.6" style="font-size:3.4px">1</text>
</g>
<text class="t" x="112.5" y="386">F</text>
<text class="t" x="191.8" y="386">B</text>
<text class="t" x="258.3" y="386">W</text>
<text class="t" x="350.7" y="385.8">Optimizer step</text>
</g>
</svg>
